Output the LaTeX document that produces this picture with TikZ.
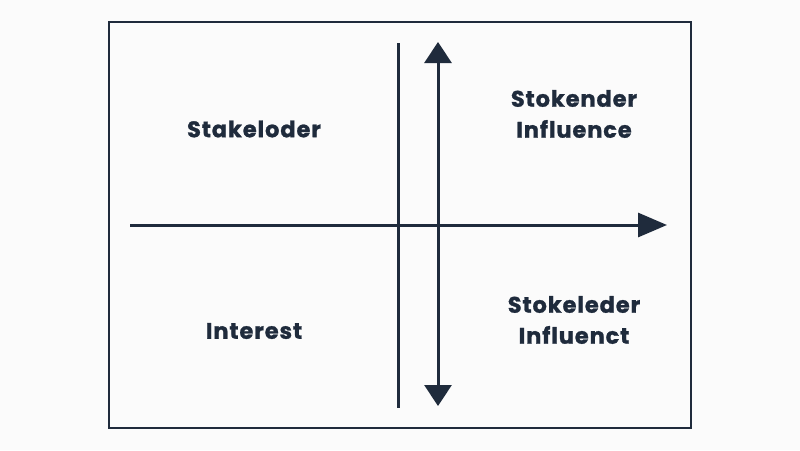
\documentclass[tikz,border=0pt]{standalone}
\usepackage{fontspec}
\setmainfont{Poppins}[FakeBold=1.1,LetterSpace=4]
\usetikzlibrary{arrows.meta}
\definecolor{ink}{HTML}{1F2B3C}
\definecolor{paper}{HTML}{FBFBFB}
\tikzset{
  axis/.style={draw=ink, line width=3pt},
  lbl/.style={text=ink, font=\bfseries\fontsize{22.5}{31}\selectfont, align=center},
  tip/.style={-{Triangle[length=29pt,width=24pt]}},
}
\begin{document}
\begin{tikzpicture}[x=1pt,y=-1pt]
  \fill[paper] (0,0) rectangle (800,450);
  \useasboundingbox (0,0) rectangle (800,450);
  \node[draw=ink, line width=1.6pt, minimum width=582pt, minimum height=406pt, inner sep=0pt] (frame) at (400,225) {};
  % vertical plain line
  \coordinate (vt) at (398,43);
  \coordinate (vb) at (398,408);
  \draw[axis] (vt) -- (vb);
  % vertical double arrow
  \coordinate (at) at (438,42);
  \coordinate (ab) at (438,406);
  \draw[axis, {Triangle[length=21pt,width=27pt]}-{Triangle[length=21pt,width=27pt]}] (ab) -- (at);
  % horizontal arrow
  \coordinate (hl) at (130,225);
  \coordinate (hr) at (667,225);
  \draw[axis, tip] (hl) -- (hr);
  % labels
  \node[lbl] (q1) at (254,129) {Stakeloder};
  \node[lbl] (q2) at (574,114) {Stokender\\Influence};
  \node[lbl] (q3) at (254,331) {Interest};
  \node[lbl] (q4) at (574,320) {Stokeleder\\Influenct};
\end{tikzpicture}
\end{document}
